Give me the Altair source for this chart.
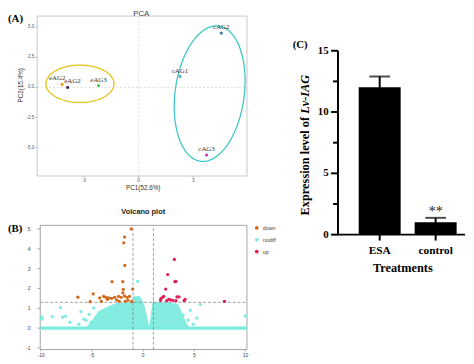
import altair as alt
import numpy as np
import pandas as pd

W, H = 464, 352
M = 8  # page margin: chart pixel = screenshot pixel - 8

SANS = "Liberation Sans"
SERIF = "Liberation Serif"


def cal(v0, p0, v1, p1):
    """map a data value to a chart pixel, calibrated on two tick positions"""
    k = (p1 - p0) / (v1 - v0)
    return lambda v: p0 + (v - v0) * k - M


# ======================= data =======================
# (A) PCA
pca_id = ["eAG2a", "eAG2b", "eAG3", "cAG1", "cAG2", "cAG3"]
pca_label = ["eAG2", "eAG2", "eAG3", "cAG1", "cAG2", "cAG3"]
pca_pc1 = [-4.2, -3.9, -2.2, 2.27, 4.54, 3.73]
pca_pc2 = [0.25, 0.0, 0.15, 0.9, 4.5, -5.6]
pca_palette = ["#E9A21A", "#4B3550", "#47C847", "#45B5B5", "#3A7DA3", "#C03CBE"]
pca_xticks = [-3, 0, 3]
pca_xtick_labels = ["-3", "0", "3"]
pca_yticks = [-5, -2.5, 0, 2.5, 5]
pca_ytick_labels = ["-5.0", "-2.5", "0.0", "2.5", "5.0"]

# confidence ellipses: centre and two conjugate semi-axis vectors (data units)
ell_group = ["eAG", "cAG"]
ell_cx = [-3.22, 3.9]
ell_cy = [0.30, -0.52]
ell_a = [(1.87, 0.0), (0.5, 5.6)]
ell_b = [(0.0, 1.55), (1.88, -0.39)]
ell_palette = ["#E3C31C", "#3FC7C7"]

# (B) volcano plot
down_x = [-1.18, -1.83, -1.9, -1.8, -3.05, -2.0, -1.03, -1.95, -6.4, -4.9, -5.2,
          -4.26, -3.87, -3.65, -3.39, -4.1, -2.42, -2.16, -1.84, -1.58, -1.35,
          -2.35, -1.77, -1.13, -2.0, -2.8, -3.1, -3.5, -2.6, -1.5]
down_y = [5.0, 4.59, 4.3, 3.16, 2.34, 2.34, 1.97, 1.95, 1.56, 1.72, 1.33,
          1.52, 1.6, 1.55, 1.52, 1.35, 1.6, 1.55, 1.62, 1.55, 1.6,
          1.35, 1.35, 1.35, 1.78, 1.55, 1.5, 1.45, 1.42, 1.4]
up_x = [3.05, 2.4, 3.1, 3.2, 2.2, 1.9, 2.0, 1.75, 2.5, 2.7, 3.3, 3.5, 3.2,
        4.1, 4.0, 2.3, 7.95, 1.7, 2.9]
up_y = [3.46, 2.7, 2.34, 2.36, 1.97, 1.55, 1.6, 1.5, 1.45, 1.42, 1.57, 1.57,
        1.38, 1.45, 1.38, 1.38, 1.35, 1.4, 1.4]
nodiff_x = [-9.97, -9.9, -8.1, -7.9, -7.6, -8.9, -6.1, -5.3, -4.85, -5.6,
            -0.55, 3.9, 5.25, 5.6, 10.0, 4.6, -7.2, -6.3, -5.8, -5.1, 4.4, 4.9]
nodiff_y = [0.45, 0.55, 1.03, 0.55, 0.6, 0.58, 0.83, 0.69, 1.02, 0.4,
            2.36, 0.67, 0.5, 1.2, 0.6, 0.9, 0.3, 0.2, 0.45, 0.3, 0.4, 0.2]
# upper envelope of the dense non-significant cloud
cloud_x = [-5.6, -5.0, -4.4, -3.4, -2.6, -1.0, -0.95, -0.35, 0.1, 0.6,
           0.85, 1.0, 1.05, 2.5, 3.4, 3.8, 4.2, 4.5]
cloud_top = [0.03, 0.4, 0.85, 1.1, 1.27, 1.3, 1.6, 1.62, 1.2, 0.08,
             1.1, 1.5, 1.3, 1.3, 1.2, 0.8, 0.3, 0.03]
vol_types = ["down", "nodiff", "up"]
vol_palette = ["#CF6A1C", "#7DEBDF", "#DC1F5A"]
fc_cut = [-1, 1]
p_cut = 1.3
vol_xticks = [-10, -5, 0, 5, 10]
vol_xtick_labels = ["-10", "-5", "0", "5", "10"]
vol_yticks = [-1, 0, 1, 2, 3, 4, 5]
vol_ytick_labels = ["-1", "0", "1", "2", "3", "4", "5"]

# (C) expression
treat = ["ESA", "control"]
expr = [12.02, 1.01]
expr_err = [0.88, 0.36]
expr_major = [0, 5, 10, 15]
expr_major_labels = ["0", "5", "10", "15"]
expr_minor = [2.5, 7.5, 12.5]


def note(text, x, y, **mk):
    return alt.Chart(pd.DataFrame({"t": [text]})).mark_text(**mk).encode(
        x=alt.value(x), y=alt.value(y), text="t:N")


def x_axis(scale, vals, labs, py, tick, lab_dy, color, lcolor, fsize, font, weight="normal",
           tw=0.6, ftype="Q"):
    df = pd.DataFrame({"v": vals, "lab": labs})
    t = alt.Chart(df).mark_rule(color=color, strokeWidth=tw).encode(
        x=alt.X(f"v:{ftype}", scale=scale, axis=None), y=alt.value(py), y2=alt.value(py + tick))
    l = alt.Chart(df).mark_text(font=font, fontSize=fsize, color=lcolor, fontWeight=weight,
                                baseline="middle").encode(
        x=alt.X(f"v:{ftype}", scale=scale, axis=None), y=alt.value(py + tick + lab_dy), text="lab:N")
    return [t, l]


def y_axis(scale, vals, labs, px, tick, lab_dx, color, lcolor, fsize, font, weight="normal", tw=0.6):
    df = pd.DataFrame({"v": vals, "lab": labs})
    t = alt.Chart(df).mark_rule(color=color, strokeWidth=tw).encode(
        y=alt.Y("v:Q", scale=scale, axis=None), x=alt.value(px), x2=alt.value(px - tick))
    l = alt.Chart(df).mark_text(font=font, fontSize=fsize, color=lcolor, fontWeight=weight,
                                baseline="middle", align="right").encode(
        y=alt.Y("v:Q", scale=scale, axis=None), x=alt.value(px - tick - lab_dx), text="lab:N")
    return [t, l]


# ======================= panel A =======================
ax = cal(-3, 85.0, 3, 195.7)
ay = cal(-5, 147.3, 5, 25.0)
A_xdom = [-5.57, 5.95]
A_ydom = [-7.34, 5.91]
A_x = alt.Scale(domain=A_xdom, range=[ax(A_xdom[0]), ax(A_xdom[1])], nice=False, zero=False)
A_y = alt.Scale(domain=A_ydom, range=[ay(A_ydom[0]), ay(A_ydom[1])], nice=False, zero=False)
A_left, A_bottom = ax(A_xdom[0]), ay(A_ydom[0])

frameA = pd.DataFrame({"x0": [A_xdom[0]], "x1": [A_xdom[1]], "y0": [A_ydom[0]], "y1": [A_ydom[1]]})
a_frame = alt.Chart(frameA).mark_rect(fillOpacity=0, stroke="#c8c8c8", strokeWidth=1).encode(
    x=alt.X("x0:Q", scale=A_x, axis=None), x2="x1:Q",
    y=alt.Y("y0:Q", scale=A_y, axis=None), y2="y1:Q")

a_xax = x_axis(A_x, pca_xticks, pca_xtick_labels, A_bottom, 2, 2.6, "#999", "#555", 4.6, SANS)
a_yax = y_axis(A_y, pca_yticks, pca_ytick_labels, A_left, 2, 1, "#999", "#555", 4.6, SANS)
a_xt = note("PC1(52.6%)", 145 - M, 187.7 - M, font=SANS, fontSize=6.4, color="#333", baseline="middle")
a_yt = note("PC2(15.4%)", 21 - M, 84 - M, font=SANS, fontSize=6.4, color="#333", baseline="middle",
            angle=270)

zeroA_v = pd.DataFrame({"x": [0.0], "y0": [A_ydom[0]], "y1": [A_ydom[1]]})
zeroA_h = pd.DataFrame({"y": [0.0], "x0": [A_xdom[0]], "x1": [A_xdom[1]]})
a_zero_v = alt.Chart(zeroA_v).mark_rule(color="#d4d4d4", strokeDash=[2, 2], strokeWidth=0.8).encode(
    x=alt.X("x:Q", scale=A_x, axis=None), y=alt.Y("y0:Q", scale=A_y, axis=None), y2="y1:Q")
a_zero_h = alt.Chart(zeroA_h).mark_rule(color="#d4d4d4", strokeDash=[2, 2], strokeWidth=0.8).encode(
    y=alt.Y("y:Q", scale=A_y, axis=None), x=alt.X("x0:Q", scale=A_x, axis=None), x2="x1:Q")

ell_rows = []
for g, col, cx0, cy0, a, b in zip(ell_group, ell_palette, ell_cx, ell_cy, ell_a, ell_b):
    for i, t in enumerate(np.linspace(0, 2 * np.pi, 121)):
        ell_rows.append({"grp": g, "col": col, "i": i,
                         "x": cx0 + a[0] * np.cos(t) + b[0] * np.sin(t),
                         "y": cy0 + a[1] * np.cos(t) + b[1] * np.sin(t)})
ellA = pd.DataFrame(ell_rows)
a_ell = alt.Chart(ellA).mark_line(strokeWidth=1.3).encode(
    x=alt.X("x:Q", scale=A_x, axis=None), y=alt.Y("y:Q", scale=A_y, axis=None),
    color=alt.Color("col:N", scale=None), detail="grp:N", order="i:Q")

pcaA = pd.DataFrame({"id": pca_id, "label": pca_label, "pc1": pca_pc1, "pc2": pca_pc2,
                     "col": pca_palette})
a_pts = alt.Chart(pcaA).mark_circle(size=10, opacity=1).encode(
    x=alt.X("pc1:Q", scale=A_x, axis=None), y=alt.Y("pc2:Q", scale=A_y, axis=None),
    color=alt.Color("col:N", scale=None))


def a_text(ids, dx):
    return alt.Chart(pcaA).transform_filter(
        alt.FieldOneOfPredicate(field="id", oneOf=ids)).mark_text(
        font=SERIF, fontSize=7, color="#333", dy=-6, dx=dx, baseline="middle").encode(
        x=alt.X("pc1:Q", scale=A_x, axis=None), y=alt.Y("pc2:Q", scale=A_y, axis=None),
        text="label:N")


a_labs = [a_text(["eAG3", "cAG1", "cAG2", "cAG3"], 0), a_text(["eAG2a"], -5), a_text(["eAG2b"], 5)]

a_title = note("PCA", 143 - M, 0, font=SANS, fontSize=8, color="#444", baseline="top")
a_tag = note("(A)", 0, 17 - M, font=SERIF, fontSize=11, fontWeight="bold", align="left",
             baseline="middle", color="black")

panelA = alt.layer(a_frame, a_zero_v, a_zero_h, a_ell, a_pts, *a_labs, *a_xax, *a_yax,
                   a_xt, a_yt, a_title, a_tag)

# ======================= panel B =======================
bx = cal(-10, 41.5, 10, 248.5)
by = cal(0, 330.0, 5, 229.5)
B_xdom = [-10.08, 10.15]
B_ydom = [-1.08, 5.18]
B_x = alt.Scale(domain=B_xdom, range=[bx(B_xdom[0]), bx(B_xdom[1])], nice=False, zero=False)
B_y = alt.Scale(domain=B_ydom, range=[by(B_ydom[0]), by(B_ydom[1])], nice=False, zero=False)
B_left, B_bottom = bx(B_xdom[0]), by(B_ydom[0])

frameB = pd.DataFrame({"x0": [B_xdom[0]], "x1": [B_xdom[1]], "y0": [B_ydom[0]], "y1": [B_ydom[1]]})
b_frame = alt.Chart(frameB).mark_rect(fillOpacity=0, stroke="#999", strokeWidth=0.9).encode(
    x=alt.X("x0:Q", scale=B_x, axis=None), x2="x1:Q",
    y=alt.Y("y0:Q", scale=B_y, axis=None), y2="y1:Q")
b_xax = x_axis(B_x, vol_xticks, vol_xtick_labels, B_bottom, 2, 3.2, "#777", "#444", 5, SANS)
b_yax = y_axis(B_y, vol_yticks, vol_ytick_labels, B_left, 3, 7, "#777", "#444", 5, SANS)

cloudB = pd.DataFrame({"x": cloud_x, "top": cloud_top, "base": [0.0] * len(cloud_x)})
b_cloud = alt.Chart(cloudB).mark_area(color="#7DEBDF", opacity=0.95).encode(
    x=alt.X("x:Q", scale=B_x, axis=None), y=alt.Y("top:Q", scale=B_y, axis=None),
    y2="base:Q")

bandB = pd.DataFrame({"x0": [B_xdom[0]], "x1": [B_xdom[1]], "y": [0.0]})
b_band = alt.Chart(bandB).mark_rule(color="#7DEBDF", strokeWidth=3.5).encode(
    x=alt.X("x0:Q", scale=B_x, axis=None), x2="x1:Q", y=alt.Y("y:Q", scale=B_y, axis=None))

vlinesB = pd.DataFrame({"x": fc_cut, "y0": [B_ydom[0]] * 2, "y1": [B_ydom[1]] * 2})
hlineB = pd.DataFrame({"y": [p_cut], "x0": [B_xdom[0]], "x1": [B_xdom[1]]})
b_vl = alt.Chart(vlinesB).mark_rule(color="#888", strokeDash=[3, 2], strokeWidth=0.8).encode(
    x=alt.X("x:Q", scale=B_x, axis=None), y=alt.Y("y0:Q", scale=B_y, axis=None), y2="y1:Q")
b_hl = alt.Chart(hlineB).mark_rule(color="#888", strokeDash=[3, 2], strokeWidth=0.8).encode(
    y=alt.Y("y:Q", scale=B_y, axis=None), x=alt.X("x0:Q", scale=B_x, axis=None), x2="x1:Q")

volB = pd.concat([
    pd.DataFrame({"x": nodiff_x, "y": nodiff_y, "type": "nodiff"}),
    pd.DataFrame({"x": down_x, "y": down_y, "type": "down"}),
    pd.DataFrame({"x": up_x, "y": up_y, "type": "up"}),
], ignore_index=True)
b_pts = alt.Chart(volB).mark_circle(size=11, opacity=1).encode(
    x=alt.X("x:Q", scale=B_x, axis=None), y=alt.Y("y:Q", scale=B_y, axis=None),
    color=alt.Color("type:N", scale=alt.Scale(domain=vol_types, range=vol_palette),
                    legend=alt.Legend(title=None, orient="none", legendX=249, legendY=217.5,
                                      padding=0, labelFont=SANS, labelFontSize=5.5,
                                      labelColor="#444", symbolSize=14, symbolType="circle",
                                      rowPadding=5, labelOffset=3)))

b_title = note("Volcano plot", 145 - M, 212.7 - M, font=SANS, fontSize=7.5, fontWeight="bold",
               color="#222", baseline="middle")
b_tag = note("(B)", 0, 230 - M, font=SERIF, fontSize=11, fontWeight="bold", align="left",
             baseline="middle", color="black")

panelB = alt.layer(b_frame, b_cloud, b_band, b_vl, b_hl, b_pts, *b_xax, *b_yax, b_title, b_tag)

# ======================= panel C =======================
cy = cal(0, 235.3, 15, 49.0)
C_axis_x0, C_axis_x1 = 342.3 - M, 471.0 - M
C_x = alt.Scale(domain=treat, range=[363.3 - M, 462.5 - M], paddingInner=0.25, paddingOuter=0)
C_y = alt.Scale(domain=[0, 15], range=[cy(0), cy(15)], nice=False)

exprC = pd.DataFrame({"treat": treat, "expr": expr, "err": expr_err})
exprC["lo"] = exprC["expr"] - exprC["err"]
exprC["hi"] = exprC["expr"] + exprC["err"]

c_bar = alt.Chart(exprC).mark_bar(color="black").encode(
    x=alt.X("treat:N", scale=C_x, sort=treat, axis=None),
    y=alt.Y("expr:Q", scale=C_y, axis=None))
c_err = alt.Chart(exprC).mark_rule(color="black", strokeWidth=2).encode(
    x=alt.X("treat:N", scale=C_x, sort=treat, axis=None),
    y=alt.Y("lo:Q", scale=C_y, axis=None), y2="hi:Q")
c_cap = alt.Chart(exprC).mark_tick(color="black", orient="horizontal", size=21, thickness=2).encode(
    x=alt.X("treat:N", scale=C_x, sort=treat, axis=None),
    y=alt.Y("hi:Q", scale=C_y, axis=None))
c_star = alt.Chart(exprC).transform_filter(alt.datum.treat == "control").mark_text(
    text="**", font=SERIF, fontSize=14, color="#222", dy=-6, baseline="middle").encode(
    x=alt.X("treat:N", scale=C_x, sort=treat, axis=None),
    y=alt.Y("hi:Q", scale=C_y, axis=None))

# axis lines
c_yline = alt.Chart(pd.DataFrame({"y0": [0.0], "y1": [15.0]})).mark_rule(
    color="black", strokeWidth=2).encode(
    x=alt.value(C_axis_x0), y=alt.Y("y0:Q", scale=C_y, axis=None), y2="y1:Q")
c_xline = alt.Chart(pd.DataFrame({"y0": [0.0]})).mark_rule(color="black", strokeWidth=2).encode(
    x=alt.value(C_axis_x0 - 1), x2=alt.value(C_axis_x1), y=alt.Y("y0:Q", scale=C_y, axis=None))
c_ymaj = y_axis(C_y, expr_major, expr_major_labels, C_axis_x0, 7, 2.5, "black", "black", 11, SERIF,
                weight="bold", tw=2)
c_ymin = alt.Chart(pd.DataFrame({"v": expr_minor})).mark_rule(color="black", strokeWidth=2).encode(
    y=alt.Y("v:Q", scale=C_y, axis=None), x=alt.value(C_axis_x0), x2=alt.value(C_axis_x0 - 5))
c_xax = x_axis(C_x, treat, treat, cy(0), 6, 10.5, "black", "black", 11.5, SERIF, weight="bold",
               tw=2, ftype="N")
c_xt = note("Treatments", 408 - M, 269 - M, font=SERIF, fontSize=12.5, fontWeight="bold",
            baseline="middle", color="black")

c_yt1 = note("Expression level of", 309 - M, 114.5 - M, font=SERIF, fontSize=12.5,
             fontWeight="bold", angle=270, align="right", baseline="middle", dx=-1.6, color="black")
c_yt2 = note("Lv-IAG", 309 - M, 114.5 - M, font=SERIF, fontSize=12.5, fontWeight="bold",
             fontStyle="italic", angle=270, align="left", baseline="middle", dx=1.6, color="black")
c_tag = note("(C)", 304 - M, 43 - M, font=SERIF, fontSize=11, fontWeight="bold",
             baseline="middle", color="black")

panelC = alt.layer(c_bar, c_err, c_cap, c_star, c_yline, c_xline, *c_ymaj, c_ymin, *c_xax, c_xt,
                   c_yt1, c_yt2, c_tag)

chart = alt.layer(panelA, panelB, panelC).resolve_scale(
    x="independent", y="independent"
).properties(
    width=W, height=H, autosize=alt.AutoSizeParams(type="none"), padding=0
).configure_view(stroke="transparent")

chart.save("out.html", embed_options={"renderer": "svg", "actions": False})
